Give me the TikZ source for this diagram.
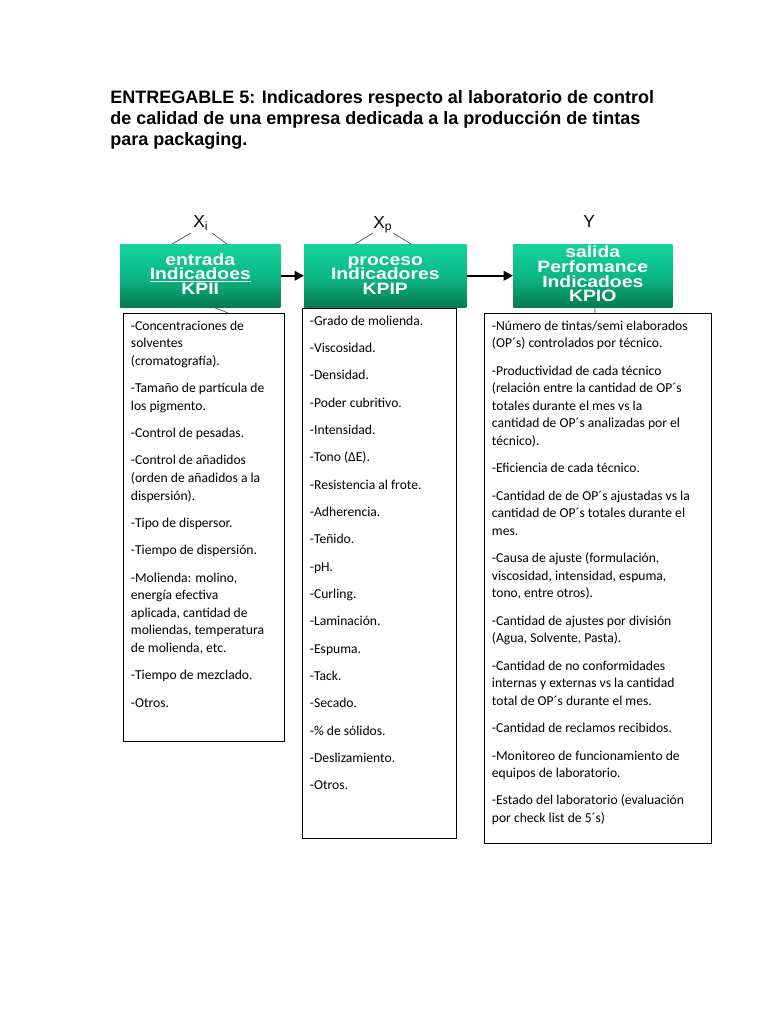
\documentclass[tikz,border=0pt]{standalone}
\usepackage{fontspec}
\setmainfont{Carlito}
\newfontfamily\arialfont{Liberation Sans}
\usepackage{graphicx}
\usetikzlibrary{arrows.meta,calc}
\definecolor{KPITop}{HTML}{14D39B}
\definecolor{KPIMid}{HTML}{0DB985}
\definecolor{KPIBottom}{HTML}{067A50}
\definecolor{KPILine}{HTML}{4A4A4A}
\newcommand{\Squash}[1]{\raisebox{0pt}[8pt][2pt]{\scalebox{1}[0.85]{#1}}}
\newcommand{\TopStrut}{\rule{0pt}{12.4pt}}
\newcommand{\ListSetup}{\raggedright\setlength{\parindent}{0pt}\setlength{\parskip}{7.3pt}\TopStrut}

\begin{document}
\begin{tikzpicture}[
  x=0.75pt,y=-0.75pt,
  headline/.style={anchor=north west,inner sep=0pt,align=left,font=\arialfont\bfseries\fontsize{13.5}{15.75}\selectfont},
  header/.style={anchor=north west,inner sep=0pt,minimum height=47.25pt,top color=KPITop,bottom color=KPIBottom,middle color=KPIMid,text=white,align=center,font=\arialfont\bfseries\fontsize{14.5}{11}\selectfont},
  listbox/.style={draw=black,line width=0.9pt,anchor=north west,inner xsep=5.5pt,inner ysep=0pt,font=\fontsize{10.2}{13.2}\selectfont},
  varlabel/.style={anchor=base west,inner sep=0pt,font=\arialfont\fontsize{13}{13}\selectfont},
  branch/.style={draw=KPILine,line width=0.5pt},
  flow/.style={line width=1.8pt,-{Triangle[length=7pt,width=7pt]}},
]
\fill[white] (0,0) rectangle (768,1024);
\useasboundingbox (0,0) rectangle (768,1024);

\node[headline] (heading) at (110,90) {ENTREGABLE 5: Indicadores respecto al laboratorio de control\\de calidad de una empresa dedicada a la producción de tintas\\para packaging.};

\node[varlabel] (xi) at (193,227) {X\textsubscript{i}};
\node[varlabel] (xp) at (373,228) {X\textsubscript{p}};
\node[varlabel] (yo) at (583,227) {Y};

\node[header,minimum width=120pt] (kpii) at (120,244) {\Squash{entrada}\\\Squash{\underline{Indicadoes}}\\\Squash{KPII}};
\node[header,minimum width=121.5pt] (kpip) at (304,244) {\Squash{proceso}\\\Squash{Indicadores}\\\Squash{KPIP}};
\node[header,minimum width=119.25pt] (kpio) at (513,244) {\Squash{salida}\\\Squash{Perfomance}\\\Squash{Indicadoes}\\\Squash{KPIO}};

\draw[branch] ($(xi.base west)+(-2,6)$) -- ($(kpii.north west)+(52,0)$);
\draw[branch] ($(xi.base west)+(19,6)$) -- ($(kpii.north west)+(107,0)$);
\draw[branch] ($(xp.base west)+(0,5)$) -- ($(kpip.north west)+(51,0)$);
\draw[branch] ($(xp.base west)+(20,5)$) -- ($(kpip.north west)+(107,0)$);

\draw[flow] (kpii.east) -- (kpip.west);
\draw[flow] (kpip.east) -- (kpio.west);

\node[listbox] (listi) at (123,313) {\parbox[t][321pt][t]{109.75pt}{\ListSetup
-Concentraciones de\\ solventes\\ (cromatografía).\par
-Tamaño de partícula de\\ los pigmento.\par
-Control de pesadas.\par
-Control de añadidos\\ (orden de añadidos a la\\ dispersión).\par
-Tipo de dispersor.\par
-Tiempo de dispersión.\par
-Molienda: molino,\\ energía efectiva\\ aplicada, cantidad de\\ moliendas, temperatura\\ de molienda, etc.\par
-Tiempo de mezclado.\par
-Otros.}};

\node[listbox] (listp) at (302,308) {\parbox[t][397.5pt][t]{104.5pt}{\ListSetup
-Grado de molienda.\par
-Viscosidad.\par
-Densidad.\par
-Poder cubritivo.\par
-Intensidad.\par
-Tono (ΔE).\par
-Resistencia al frote.\par
-Adherencia.\par
-Teñido.\par
-pH.\par
-Curling.\par
-Laminación.\par
-Espuma.\par
-Tack.\par
-Secado.\par
-\% de sólidos.\par
-Deslizamiento.\par
-Otros.}};

\node[listbox] (listo) at (484,313) {\parbox[t][397.5pt][t]{159.25pt}{\ListSetup
-Número de tintas/semi elaborados\\ (OP´s) controlados por técnico.\par
-Productividad de cada técnico\\ (relación entre la cantidad de OP´s\\ totales durante el mes vs la\\ cantidad de OP´s analizadas por el\\ técnico).\par
-Eficiencia de cada técnico.\par
-Cantidad de de OP´s ajustadas vs la\\ cantidad de OP´s totales durante el\\ mes.\par
-Causa de ajuste (formulación,\\ viscosidad, intensidad, espuma,\\ tono, entre otros).\par
-Cantidad de ajustes por división\\ (Agua, Solvente, Pasta).\par
-Cantidad de no conformidades\\ internas y externas vs la cantidad\\ total de OP´s durante el mes.\par
-Cantidad de reclamos recibidos.\par
-Monitoreo de funcionamiento de\\ equipos de laboratorio.\par
-Estado del laboratorio (evaluación\\ por check list de 5´s)}};

\draw[branch] ($(kpii.south)+(14,0)$) -- ($(listi.north)+(24,0)$);
\draw[branch] ($(kpip.south)+(-30,0)$) -- ($(listp.north)+(-24,0)$);
\draw[branch] ($(kpio.south)+(2,0)$) -- ($(listo.north)+(-3,0)$);
\end{tikzpicture}
\end{document}
